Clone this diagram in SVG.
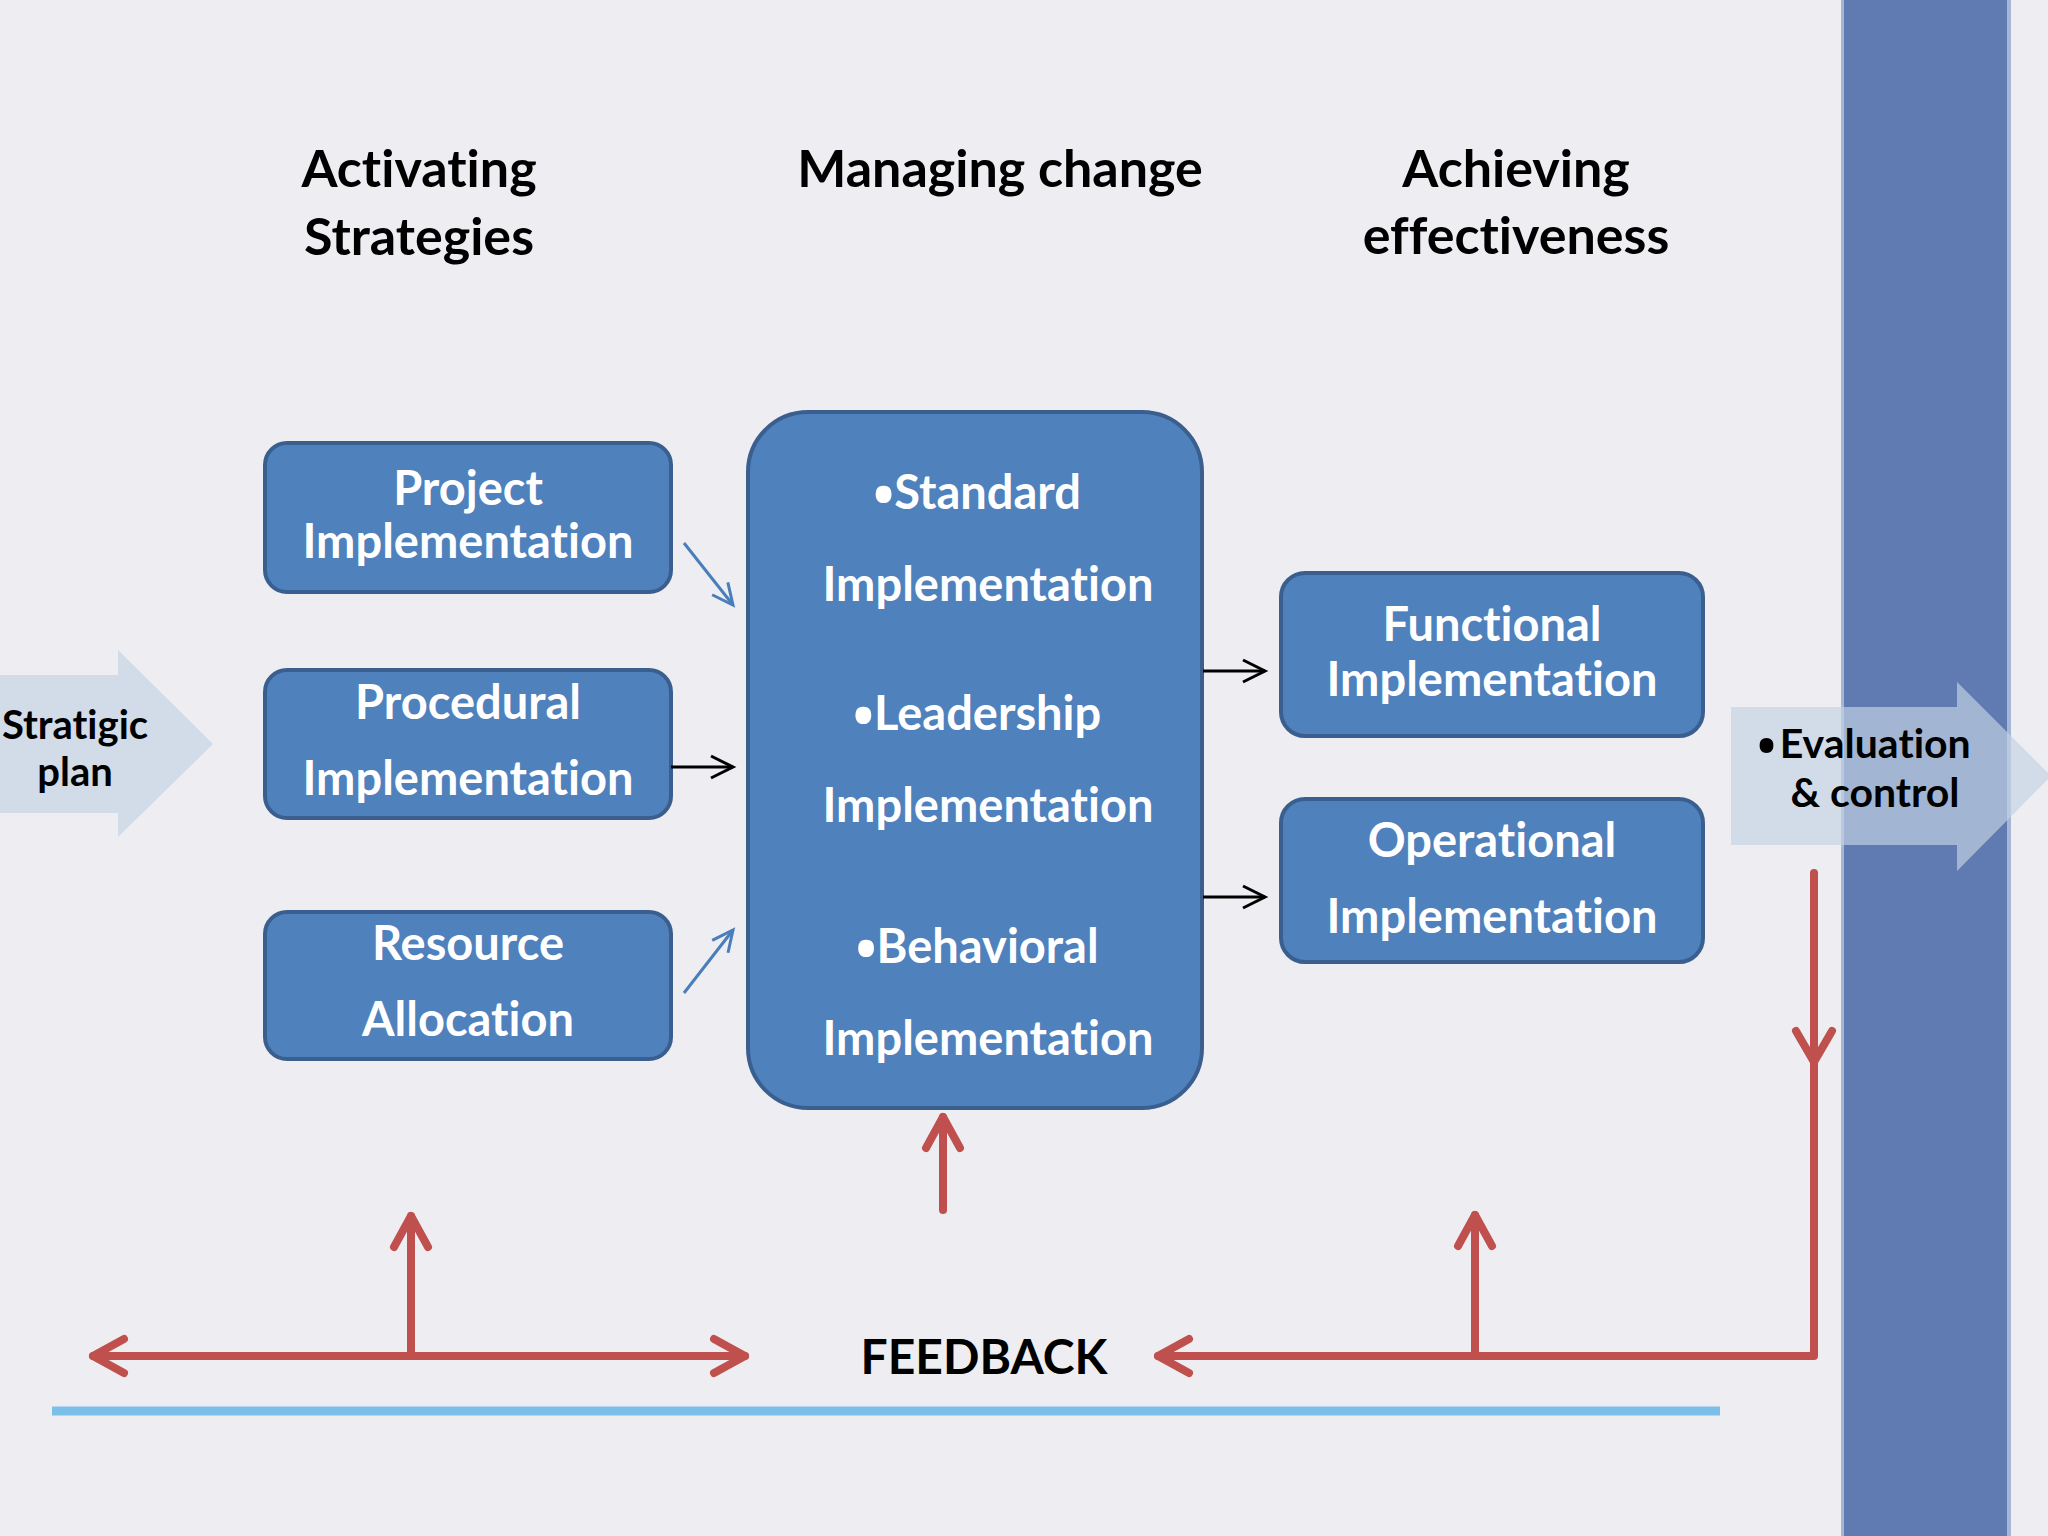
<svg xmlns="http://www.w3.org/2000/svg" width="2048" height="1536" viewBox="0 0 2048 1536">
<defs>
<style>
.bg{fill:#eeedf2}
.box{fill:#4f81bd;stroke:#3a5f8f;stroke-width:4}
text{font-family:Lato,"Open Sans",sans-serif;font-weight:700;font-variant-ligatures:none;font-feature-settings:"liga" 0,"clig" 0}
.bt{font-size:47px;fill:#ffffff;text-anchor:middle}
.hd{font-size:52px;fill:#000000;text-anchor:middle}
.st{font-size:40px;fill:#000000;text-anchor:middle}
.ev{font-size:41px;fill:#000000;text-anchor:middle}
.fb{font-size:48px;fill:#000000;text-anchor:middle}
.bul{font-family:"Open Sans",sans-serif;font-size:1.2em}
.shape{fill:#c4d2e2;fill-opacity:0.67}
.blk{stroke:#000000;stroke-width:3;fill:none}
.blu{stroke:#4a7ebb;stroke-width:3;fill:none}
.red{stroke:#c0504d;stroke-width:8;fill:none;stroke-linecap:round;stroke-linejoin:round}
</style>
<marker id="mBlk" markerUnits="userSpaceOnUse" markerWidth="30" markerHeight="30" viewBox="-26 -15 30 30" refX="0" refY="0" orient="auto">
<path d="M-22,-11 L0,0 L-22,11" fill="none" stroke="#000000" stroke-width="3"/>
</marker>
<marker id="mBlu" markerUnits="userSpaceOnUse" markerWidth="30" markerHeight="30" viewBox="-26 -15 30 30" refX="0" refY="0" orient="auto">
<path d="M-21,-10 L0,0 L-21,10" fill="none" stroke="#4a7ebb" stroke-width="3"/>
</marker>
<marker id="mRed" markerUnits="userSpaceOnUse" markerWidth="60" markerHeight="60" viewBox="-45 -30 60 60" refX="0" refY="0" orient="auto">
<path d="M-31,-17 L0,0 L-31,17" fill="none" stroke="#c0504d" stroke-width="8" stroke-linecap="round" stroke-linejoin="round"/>
</marker>
<marker id="mRedS" markerUnits="userSpaceOnUse" markerWidth="60" markerHeight="60" viewBox="-45 -30 60 60" refX="0" refY="0" orient="auto-start-reverse">
<path d="M-31,-17 L0,0 L-31,17" fill="none" stroke="#c0504d" stroke-width="8" stroke-linecap="round" stroke-linejoin="round"/>
</marker>
</defs>

<rect class="bg" x="0" y="0" width="2048" height="1536"/>

<g id="band">
<rect x="1841" y="0" width="170" height="1536" fill="#a8b6d6"/>
<rect x="1844" y="0" width="163" height="1536" fill="#5f7bb1"/>
</g>

<line x1="52" y1="1411" x2="1720" y2="1411" stroke="#7cbfe9" stroke-width="9"/>

<g id="headers">
<text class="hd" x="419" y="187">Activating</text>
<text class="hd" x="419" y="255">Strategies</text>
<text class="hd" x="1000" y="187">Managing change</text>
<text class="hd" x="1516" y="187">Achieving</text>
<text class="hd" x="1516" y="254">effectiveness</text>
</g>

<g id="stratigic-plan">
<polygon class="shape" points="-5,675 118,675 118,650 213,744 118,837 118,813 -5,813"/>
<text class="st" x="75" y="739">Stratigic</text>
<text class="st" x="75" y="786">plan</text>
</g>

<g id="project-implementation">
<rect class="box" x="265" y="443" width="406" height="149" rx="22"/>
<text class="bt" x="468" y="505">Project</text>
<text class="bt" x="468" y="558">Implementation</text>
</g>

<g id="procedural-implementation">
<rect class="box" x="265" y="670" width="406" height="148" rx="22"/>
<text class="bt" x="468" y="719">Procedural</text>
<text class="bt" x="468" y="795">Implementation</text>
</g>

<g id="resource-allocation">
<rect class="box" x="265" y="912" width="406" height="147" rx="22"/>
<text class="bt" x="468" y="960">Resource</text>
<text class="bt" x="468" y="1036">Allocation</text>
</g>

<g id="managing-change">
<rect class="box" x="748" y="412" width="454" height="696" rx="60"/>
<text class="bt" x="977" y="509"><tspan class="bul" dy="6">•</tspan><tspan dy="-6">Standard</tspan></text>
<text class="bt" x="988" y="601">Implementation</text>
<text class="bt" x="977" y="730"><tspan class="bul" dy="6">•</tspan><tspan dy="-6">Leadership</tspan></text>
<text class="bt" x="988" y="822">Implementation</text>
<text class="bt" x="977" y="963"><tspan class="bul" dy="6">•</tspan><tspan dy="-6">Behavioral</tspan></text>
<text class="bt" x="988" y="1055">Implementation</text>
</g>

<g id="functional-implementation">
<rect class="box" x="1281" y="573" width="422" height="163" rx="24"/>
<text class="bt" x="1492" y="641">Functional</text>
<text class="bt" x="1492" y="696">Implementation</text>
</g>

<g id="operational-implementation">
<rect class="box" x="1281" y="799" width="422" height="163" rx="24"/>
<text class="bt" x="1492" y="857">Operational</text>
<text class="bt" x="1492" y="933">Implementation</text>
</g>

<g id="evaluation-control">
<polygon class="shape" points="1731,707 1957,707 1957,682 2051,776 1957,871 1957,845 1731,845"/>
<text class="ev" x="1864" y="758"><tspan class="bul" dy="5">•</tspan><tspan dx="4" dy="-5">Evaluation</tspan></text>
<text class="ev" x="1875" y="807">&amp; control</text>
</g>

<g id="feedback">
<text class="fb" x="984" y="1374">FEEDBACK</text>
</g>

<g id="connectors">
<line class="blu" x1="684" y1="543" x2="733" y2="605" marker-end="url(#mBlu)"/>
<line class="blk" x1="671" y1="767" x2="733" y2="767" marker-end="url(#mBlk)"/>
<line class="blu" x1="684" y1="993" x2="733" y2="930" marker-end="url(#mBlu)"/>
<line class="blk" x1="1203" y1="671" x2="1265" y2="671" marker-end="url(#mBlk)"/>
<line class="blk" x1="1203" y1="897" x2="1265" y2="897" marker-end="url(#mBlk)"/>

<line class="red" x1="93" y1="1356" x2="745" y2="1356" marker-start="url(#mRedS)" marker-end="url(#mRed)"/>
<line class="red" x1="411" y1="1356" x2="411" y2="1216" marker-end="url(#mRed)"/>
<line class="red" x1="943" y1="1210" x2="943" y2="1117" marker-end="url(#mRed)"/>
<line class="red" x1="1475" y1="1356" x2="1475" y2="1215" marker-end="url(#mRed)"/>
<path class="red" d="M1814,873 L1814,1356 L1158,1356" marker-end="url(#mRed)"/>
<path class="red" d="M1796,1031 L1814,1062 L1832,1031"/>
</g>
</svg>
